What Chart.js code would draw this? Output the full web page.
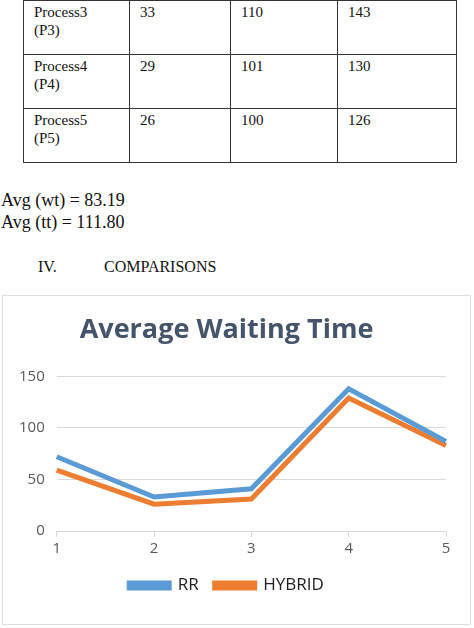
<!DOCTYPE html>
<html><head><meta charset="utf-8">
<script src="https://cdn.jsdelivr.net/npm/chart.js@4"></script>
<style>
body{margin:0;width:474px;height:628px;position:relative;background:#fff;font-family:"Liberation Serif",serif;color:#111;overflow:hidden}
table{position:absolute;left:23px;top:0;border-collapse:collapse;font-size:15px;line-height:18px}
td{border:1.5px solid #333;vertical-align:top;padding:2px 0 0 10px;height:54px;box-sizing:border-box}
.t{position:absolute;font-size:18px;line-height:22px}
#box{position:absolute;left:2px;top:295px;width:469px;height:330px;border:1px solid #e0e0e0;box-sizing:border-box}
</style></head><body>
<table>
<tr><td style="width:106px">Process3<br>(P3)</td><td style="width:101px">33</td><td style="width:107px">110</td><td style="width:119px">143</td></tr>
<tr><td>Process4<br>(P4)</td><td>29</td><td>101</td><td>130</td></tr>
<tr><td>Process5<br>(P5)</td><td>26</td><td>100</td><td>126</td></tr>
</table>
<div class="t" style="left:1px;top:189px">Avg (wt) = 83.19<br>Avg (tt) = 111.80</div>
<div class="t" style="left:38px;top:256px;font-size:16px">IV.</div>
<div class="t" style="left:104px;top:256px;font-size:16px">COMPARISONS</div>
<div id="box"><canvas id="c"></canvas></div>
<script>
const categories=["1","2","3","4","5"];
const rrValues=[72,33,41,138,87];
const hybridValues=[59,26,31,129,83];
const yTicks=[0,50,100,150];
const font="'Open Sans', sans-serif";
new Chart(document.getElementById('c'),{
type:'line',
data:{labels:categories,datasets:[
{label:'RR',data:rrValues,borderColor:'#5B9BD5',backgroundColor:'#5B9BD5',borderWidth:5,pointRadius:0,tension:0},
{label:'HYBRID',data:hybridValues,borderColor:'#ED7D31',backgroundColor:'#ED7D31',borderWidth:5,pointRadius:0,tension:0}]},
options:{responsive:true,maintainAspectRatio:false,animation:false,
layout:{padding:{left:4,right:24,top:8,bottom:20}},
plugins:{title:{display:true,text:'Average Waiting Time',color:'#44546A',font:{family:font,size:27,weight:'bold'},padding:{top:10,bottom:30}},
legend:{position:'bottom',labels:{boxWidth:40,boxHeight:5,color:'#222',font:{family:font,size:17},padding:16}}},
scales:{x:{offset:false,grid:{display:true,drawOnChartArea:false,color:'#d9d9d9',tickLength:6},border:{color:'#d9d9d9'},ticks:{color:'#595959',font:{family:font,size:15}}},
y:{min:0,max:150,afterBuildTicks:a=>{a.ticks=yTicks.map(v=>({value:v}))},grid:{color:'#d9d9d9',drawTicks:false},border:{display:false},ticks:{color:'#595959',font:{family:font,size:15},padding:12}}}}
});
</script></body></html>
